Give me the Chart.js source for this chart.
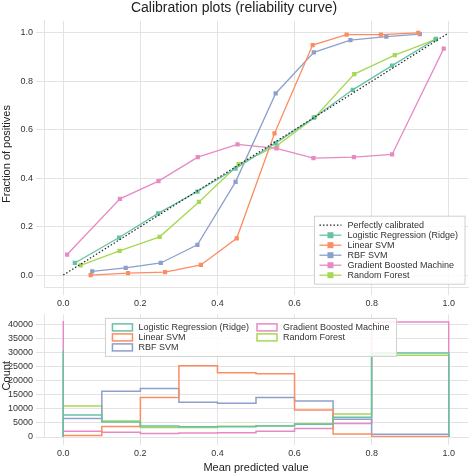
<!DOCTYPE html>
<html><head><meta charset="utf-8">
<script src="https://cdn.jsdelivr.net/npm/chart.js@4"></script>
<style>body{margin:0;background:#fff;font-family:"Liberation Sans",Arial,sans-serif}
#a{position:absolute;left:0;top:0;width:474px;height:312px}
#b{position:absolute;left:0;top:306px;width:474px;height:169px}</style>
</head><body>
<div id="a"><canvas id="top"></canvas></div>
<div id="b"><canvas id="hist"></canvas></div>
<script>
const names = ['Logistic Regression (Ridge)', 'Linear SVM', 'RBF SVM', 'Gradient Boosted Machine', 'Random Forest'];
const colors = ['#66c2a5', '#fc8d62', '#8da0cb', '#e78ac3', '#a6d854'];

// calibration curves: mean predicted value / fraction of positives
const predLR  = [0.03, 0.145, 0.246, 0.348, 0.447, 0.551, 0.65, 0.751, 0.853, 0.967];
const fracLR  = [0.05, 0.155, 0.255, 0.345, 0.44, 0.545, 0.65, 0.765, 0.865, 0.975];
const predLSVM = [0.071, 0.168, 0.264, 0.357, 0.45, 0.548, 0.647, 0.735, 0.824, 0.921];
const fracLSVM = [0.0, 0.008, 0.012, 0.042, 0.152, 0.585, 0.95, 0.993, 0.993, 1.0];
const predRBF = [0.075, 0.162, 0.253, 0.348, 0.447, 0.551, 0.65, 0.745, 0.838, 0.925];
const fracRBF = [0.015, 0.03, 0.05, 0.125, 0.385, 0.75, 0.92, 0.97, 0.985, 0.995];
const predGBM = [0.01, 0.147, 0.247, 0.349, 0.452, 0.553, 0.649, 0.754, 0.853, 0.987];
const fracGBM = [0.085, 0.315, 0.388, 0.487, 0.54, 0.523, 0.483, 0.487, 0.498, 0.935];
const predRF  = [0.045, 0.146, 0.25, 0.352, 0.455, 0.555, 0.653, 0.755, 0.86, 0.965];
const fracRF  = [0.04, 0.1, 0.158, 0.302, 0.458, 0.535, 0.652, 0.83, 0.908, 0.972];

// histogram counts, 10 bins of width 0.1
const binEdges = [0, 0.1, 0.2, 0.3, 0.4, 0.5, 0.6, 0.7, 0.8, 0.9, 1.0];
const countLR  = [30700, 7800, 5300, 3900, 3600, 3600, 3900, 4500, 7000, 29800];
const countLSVM = [200, 500, 3700, 14000, 25300, 22800, 22400, 9600, 1100, 200];
const countRBF = [800, 6600, 16200, 17200, 12300, 12000, 14000, 12800, 6300, 1000];
const countGBM = [41200, 2000, 1700, 1200, 1400, 1500, 2000, 3000, 4800, 40800];
const countRF  = [25700, 11000, 5700, 3400, 3400, 3800, 4000, 4700, 8200, 29000];

const preds = [predLR, predLSVM, predRBF, predGBM, predRF];
const fracs = [fracLR, fracLSVM, fracRBF, fracGBM, fracRF];
const counts = [countLR, countLSVM, countRBF, countGBM, countRF];

const grid = {color: '#e3e3e3', lineWidth: 1};
const tickFont = {size: 9, family: 'Liberation Sans'};
const fixW = s => { s.width = 44; };

// little legend drawn inside the plot area
function legendPlugin(id, where, cols, box) {
  return {id: id, afterDraw(chart) {
    const ctx = chart.ctx, a = chart.chartArea;
    const items = chart.data.datasets.filter(d => d.label);
    ctx.save();
    ctx.font = '9px "Liberation Sans"';
    const rows = Math.ceil(items.length / cols);
    const colW = items.map(d => ctx.measureText(d.label).width);
    const cw = [];
    for (let c = 0; c < cols; c++) {
      let m = 0;
      for (let r = 0; r < rows; r++) { const i = c * rows + r; if (i < items.length) m = Math.max(m, colW[i]); }
      cw.push(m + 34);
    }
    const w = cw.reduce((p, q) => p + q, 0) + 6, h = rows * 10 + 8;
    let x0, y0;
    if (where === 'br') { x0 = a.right - w - 3; y0 = a.bottom - h - 3; }
    else { x0 = (a.left + a.right) / 2 - w / 2 - 5; y0 = a.top + 4; }
    ctx.fillStyle = 'rgba(255,255,255,0.85)';
    ctx.strokeStyle = '#d0d0d0';
    ctx.lineWidth = 1;
    ctx.fillRect(x0, y0, w, h); ctx.strokeRect(x0, y0, w, h);
    items.forEach((d, i) => {
      const c = Math.floor(i / rows), r = i % rows;
      let x = x0 + 5 + cw.slice(0, c).reduce((p, q) => p + q, 0);
      const y = y0 + 9 + r * 10;
      ctx.strokeStyle = d.borderColor;
      if (box) {
        ctx.lineWidth = 1.5;
        ctx.strokeRect(x + 2, y - 3.5, 20, 7);
      } else {
        ctx.lineWidth = 1.3;
        ctx.setLineDash(d.borderDash || []);
        ctx.beginPath(); ctx.moveTo(x, y); ctx.lineTo(x + 22, y); ctx.stroke();
        ctx.setLineDash([]);
        if (d.pointRadius) { ctx.fillStyle = d.borderColor; ctx.fillRect(x + 8, y - 3, 6, 6); }
      }
      ctx.fillStyle = '#333';
      ctx.textBaseline = 'middle';
      ctx.fillText(d.label, x + 28, y + 0.5);
    });
    ctx.restore();
  }};
}

const topSets = [{
  label: 'Perfectly calibrated', data: [{x: 0, y: 0}, {x: 1, y: 1}],
  borderColor: '#222', borderDash: [1.5, 2], borderWidth: 1.2, pointRadius: 0
}];
names.forEach((n, k) => topSets.push({
  label: n,
  data: preds[k].map((p, i) => ({x: p, y: fracs[k][i]})),
  borderColor: colors[k], backgroundColor: colors[k],
  borderWidth: 1.3, pointStyle: 'rect', pointRadius: 3, pointBorderWidth: 0
}));

new Chart(document.getElementById('top'), {
  type: 'line',
  data: {datasets: topSets},
  options: {
    responsive: true, maintainAspectRatio: false, animation: false,
    layout: {padding: {right: 6, left: 0}},
    plugins: {
      legend: {display: false}, tooltip: {enabled: false},
      title: {display: true, text: 'Calibration plots (reliability curve)', color: '#222',
              font: {size: 14, weight: 'normal', family: 'Liberation Sans'}, padding: {top: 0, bottom: 4}}
    },
    scales: {
      x: {type: 'linear', min: -0.05, max: 1.05, grid: grid, border: {color: '#e3e3e3'},
          afterBuildTicks: s => { s.ticks = [0, 0.2, 0.4, 0.6, 0.8, 1.0].map(v => ({value: v})); },
          ticks: {font: tickFont, color: '#333', callback: v => v.toFixed(1)}},
      y: {min: -0.05, max: 1.05, grid: grid, border: {color: '#e3e3e3'}, afterFit: fixW,
          afterBuildTicks: s => { s.ticks = [0, 0.2, 0.4, 0.6, 0.8, 1.0].map(v => ({value: v})); },
          title: {display: true, text: 'Fraction of positives', color: '#222', font: {size: 11}, padding: 0},
          ticks: {font: tickFont, color: '#333', callback: v => v.toFixed(1)}}
    }
  },
  plugins: [legendPlugin('lg1', 'br', 1, false)]
});

// step outline: each bin's count held from its left edge to the next edge
const histSets = names.map((n, k) => ({
  label: n,
  data: [{x: 0, y: 0}]
    .concat(counts[k].map((c, i) => ({x: binEdges[i], y: c})))
    .concat([{x: 1, y: counts[k][counts[k].length - 1]}, {x: 1, y: 0}]),
  borderColor: colors[k], borderWidth: 1.5, pointRadius: 0, stepped: 'after', fill: false
}));

new Chart(document.getElementById('hist'), {
  type: 'line',
  data: {datasets: histSets},
  options: {
    responsive: true, maintainAspectRatio: false, animation: false,
    layout: {padding: {right: 6, top: 6}},
    plugins: {legend: {display: false}, tooltip: {enabled: false}},
    scales: {
      x: {type: 'linear', min: -0.05, max: 1.05, grid: grid, border: {color: '#e3e3e3'},
          afterBuildTicks: s => { s.ticks = [0, 0.2, 0.4, 0.6, 0.8, 1.0].map(v => ({value: v})); },
          title: {display: true, text: 'Mean predicted value', color: '#222', font: {size: 11}, padding: 0},
          ticks: {font: tickFont, color: '#333', callback: v => v.toFixed(1)}},
      y: {min: 0, max: 43500, grid: grid, border: {color: '#e3e3e3'}, afterFit: fixW,
          afterBuildTicks: s => { s.ticks = [0, 5000, 10000, 15000, 20000, 25000, 30000, 35000, 40000].map(v => ({value: v})); },
          title: {display: true, text: 'Count', color: '#222', font: {size: 11}, padding: 0},
          ticks: {font: tickFont, color: '#333', callback: v => String(v)}}
    }
  },
  plugins: [legendPlugin('lg2', 'top', 2, true)]
});
</script>
</body></html>
